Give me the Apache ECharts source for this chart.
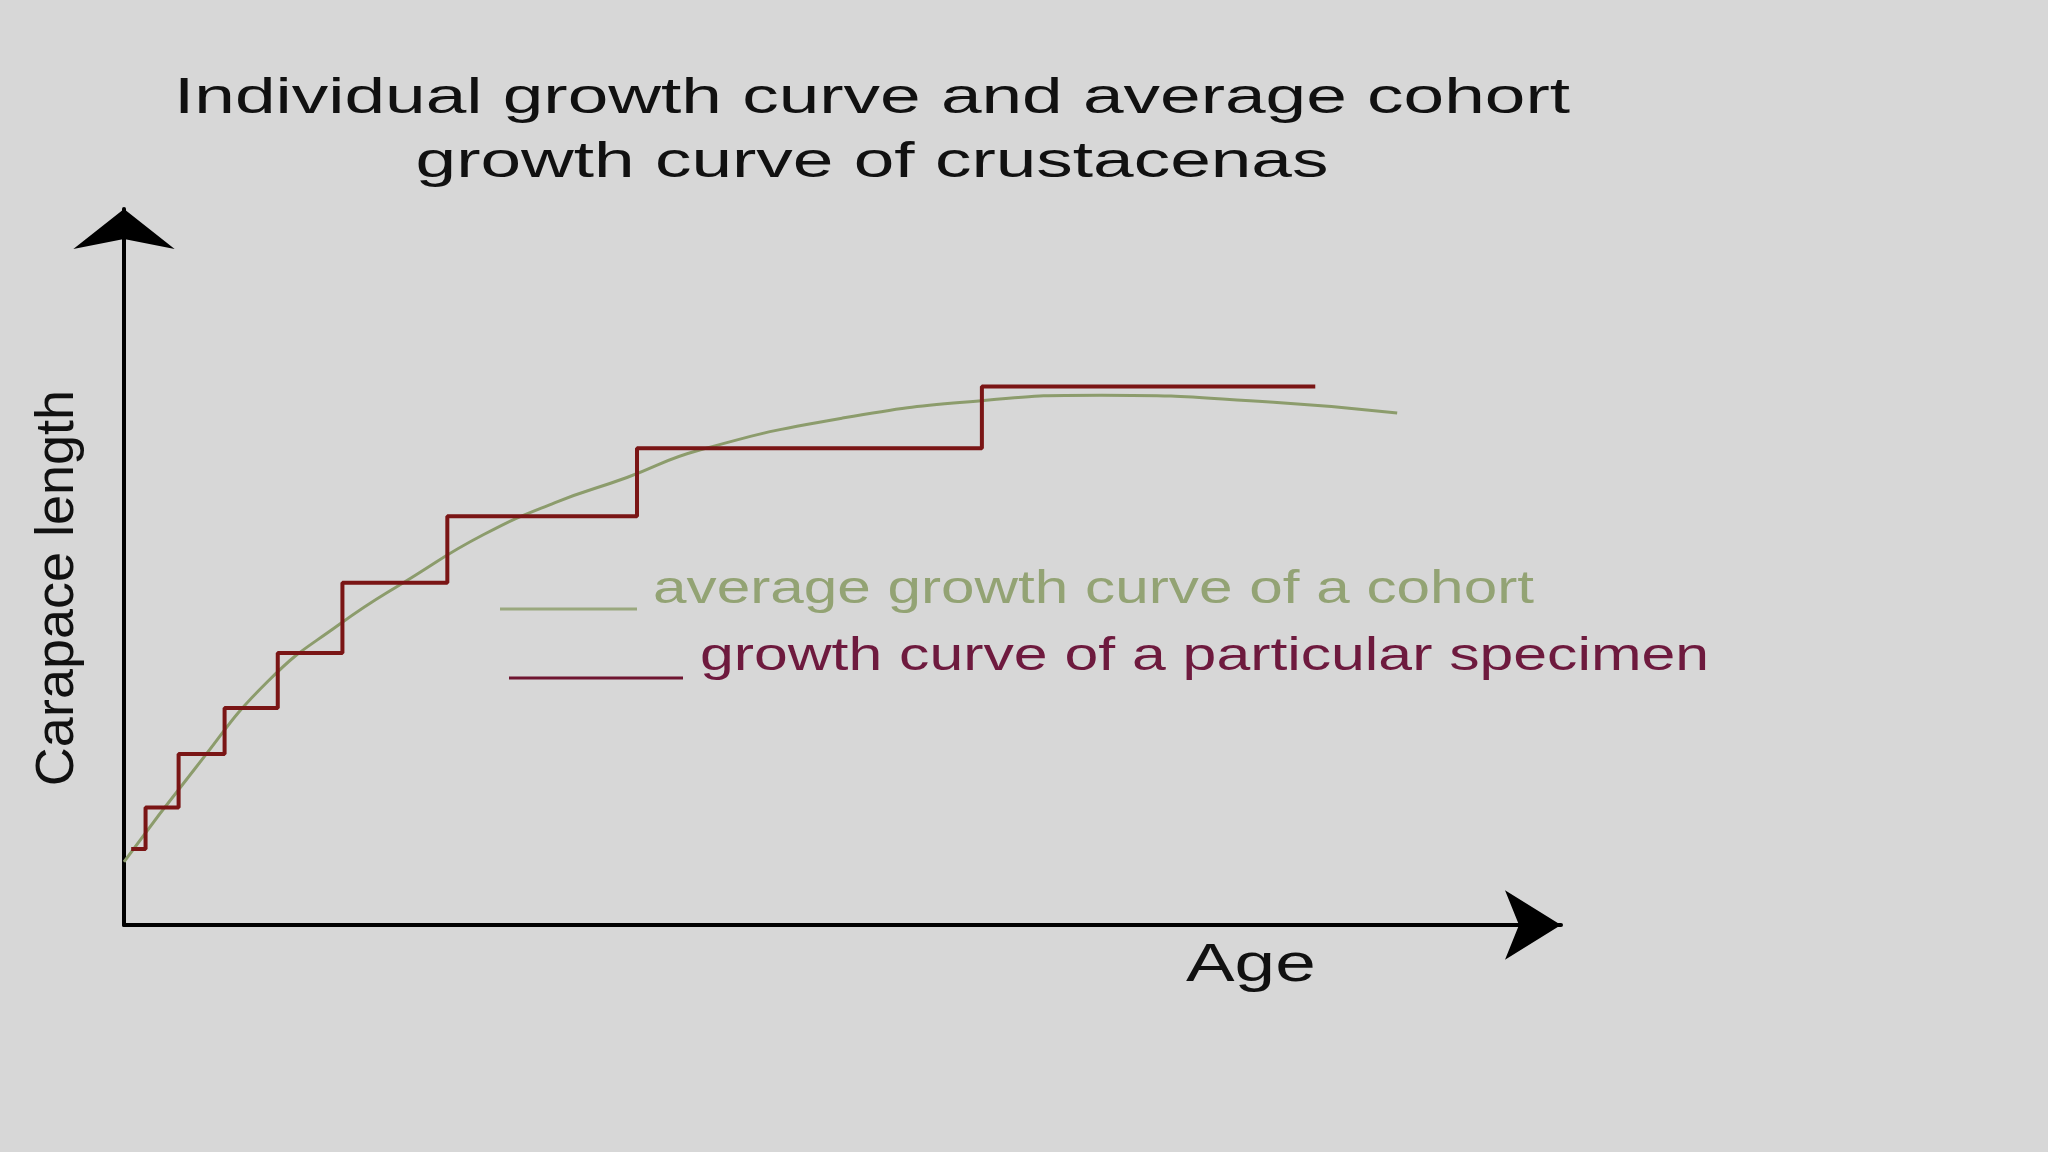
<!DOCTYPE html>
<html><head><meta charset="utf-8">
<script src="https://cdn.jsdelivr.net/npm/echarts@6/dist/echarts.min.js"></script>
<style>html,body{margin:0;background:#d7d7d7}#c{width:2048px;height:1152px}</style>
</head><body><div id="c"></div>
<script>
const titleLines = ['Individual growth curve and average cohort', 'growth curve of crustacenas'];
const xLabel = 'Age';
const yLabel = 'Carapace length';
const legendNames = ['average growth curve of a cohort', 'growth curve of a particular specimen'];
const specimenX = [0.5, 1.5, 3.8, 7.0, 10.7, 15.2, 22.5, 35.7, 59.7, 82.9];
const specimenY = [10.6, 16.4, 23.9, 30.3, 38.0, 47.8, 57.1, 66.6, 75.2, 75.2];
const cohortX = [0, 5, 10, 15, 20, 25, 30, 35, 40, 50, 60, 68, 80, 88.6];
const cohortY = [8.8, 22, 34, 42, 48.5, 54.5, 59, 62.5, 66.3, 70.8, 73.3, 74, 73, 71.5];

const chart = echarts.init(document.getElementById('c'));
const font = 'Liberation Sans, Arial, sans-serif';
function txt(text, x, y, size, fill, sx, align) {
  return {type: 'text', x: x, y: y, scaleX: sx, style: {text: text, font: size + 'px ' + font, fill: fill, align: align, verticalAlign: 'middle'}};
}
chart.setOption({
  backgroundColor: '#d7d7d7',
  animation: false,
  grid: {left: 124, top: 209, width: 1437, height: 716},
  xAxis: {type: 'value', min: 0, max: 100, axisLabel: {show: false}, axisTick: {show: false}, splitLine: {show: false},
    axisLine: {lineStyle: {color: '#000', width: 4}, symbol: ['none', 'arrow'], symbolSize: [52, 56]}},
  yAxis: {type: 'value', min: 0, max: 100, axisLabel: {show: false}, axisTick: {show: false}, splitLine: {show: false},
    axisLine: {lineStyle: {color: '#000', width: 4}, symbol: ['none', 'arrow'], symbolSize: [76, 40]}},
  series: [
    {type: 'line', name: legendNames[0], smooth: true, symbol: 'none', data: cohortX.map((x, i) => [x, cohortY[i]]),
      lineStyle: {color: '#8c9c6c', width: 3}},
    {type: 'line', name: legendNames[1], step: 'end', symbol: 'none', data: specimenX.map((x, i) => [x, specimenY[i]]),
      lineStyle: {color: '#7a1515', width: 4}}
  ],
  graphic: [
    txt(titleLines[0], 872, 99, 50, '#111', 1.46, 'center'),
    txt(titleLines[1], 872, 163, 50, '#111', 1.46, 'center'),
    {type: 'line', shape: {x1: 500, y1: 609, x2: 637, y2: 609}, style: {stroke: '#9aa87e', lineWidth: 3}},
    txt(legendNames[0], 653, 590, 46, '#93a374', 1.31, 'left'),
    {type: 'line', shape: {x1: 509, y1: 678, x2: 683, y2: 678}, style: {stroke: '#6e1530', lineWidth: 3}},
    txt(legendNames[1], 700, 657, 46, '#6e1a3e', 1.32, 'left'),
    txt(xLabel, 1186, 966, 54, '#111', 1.35, 'left'),
    {type: 'text', x: 58, y: 588, rotation: Math.PI / 2, style: {text: yLabel, font: '54px ' + font, fill: '#111', align: 'center', verticalAlign: 'middle'}}
  ]
});
</script></body></html>
